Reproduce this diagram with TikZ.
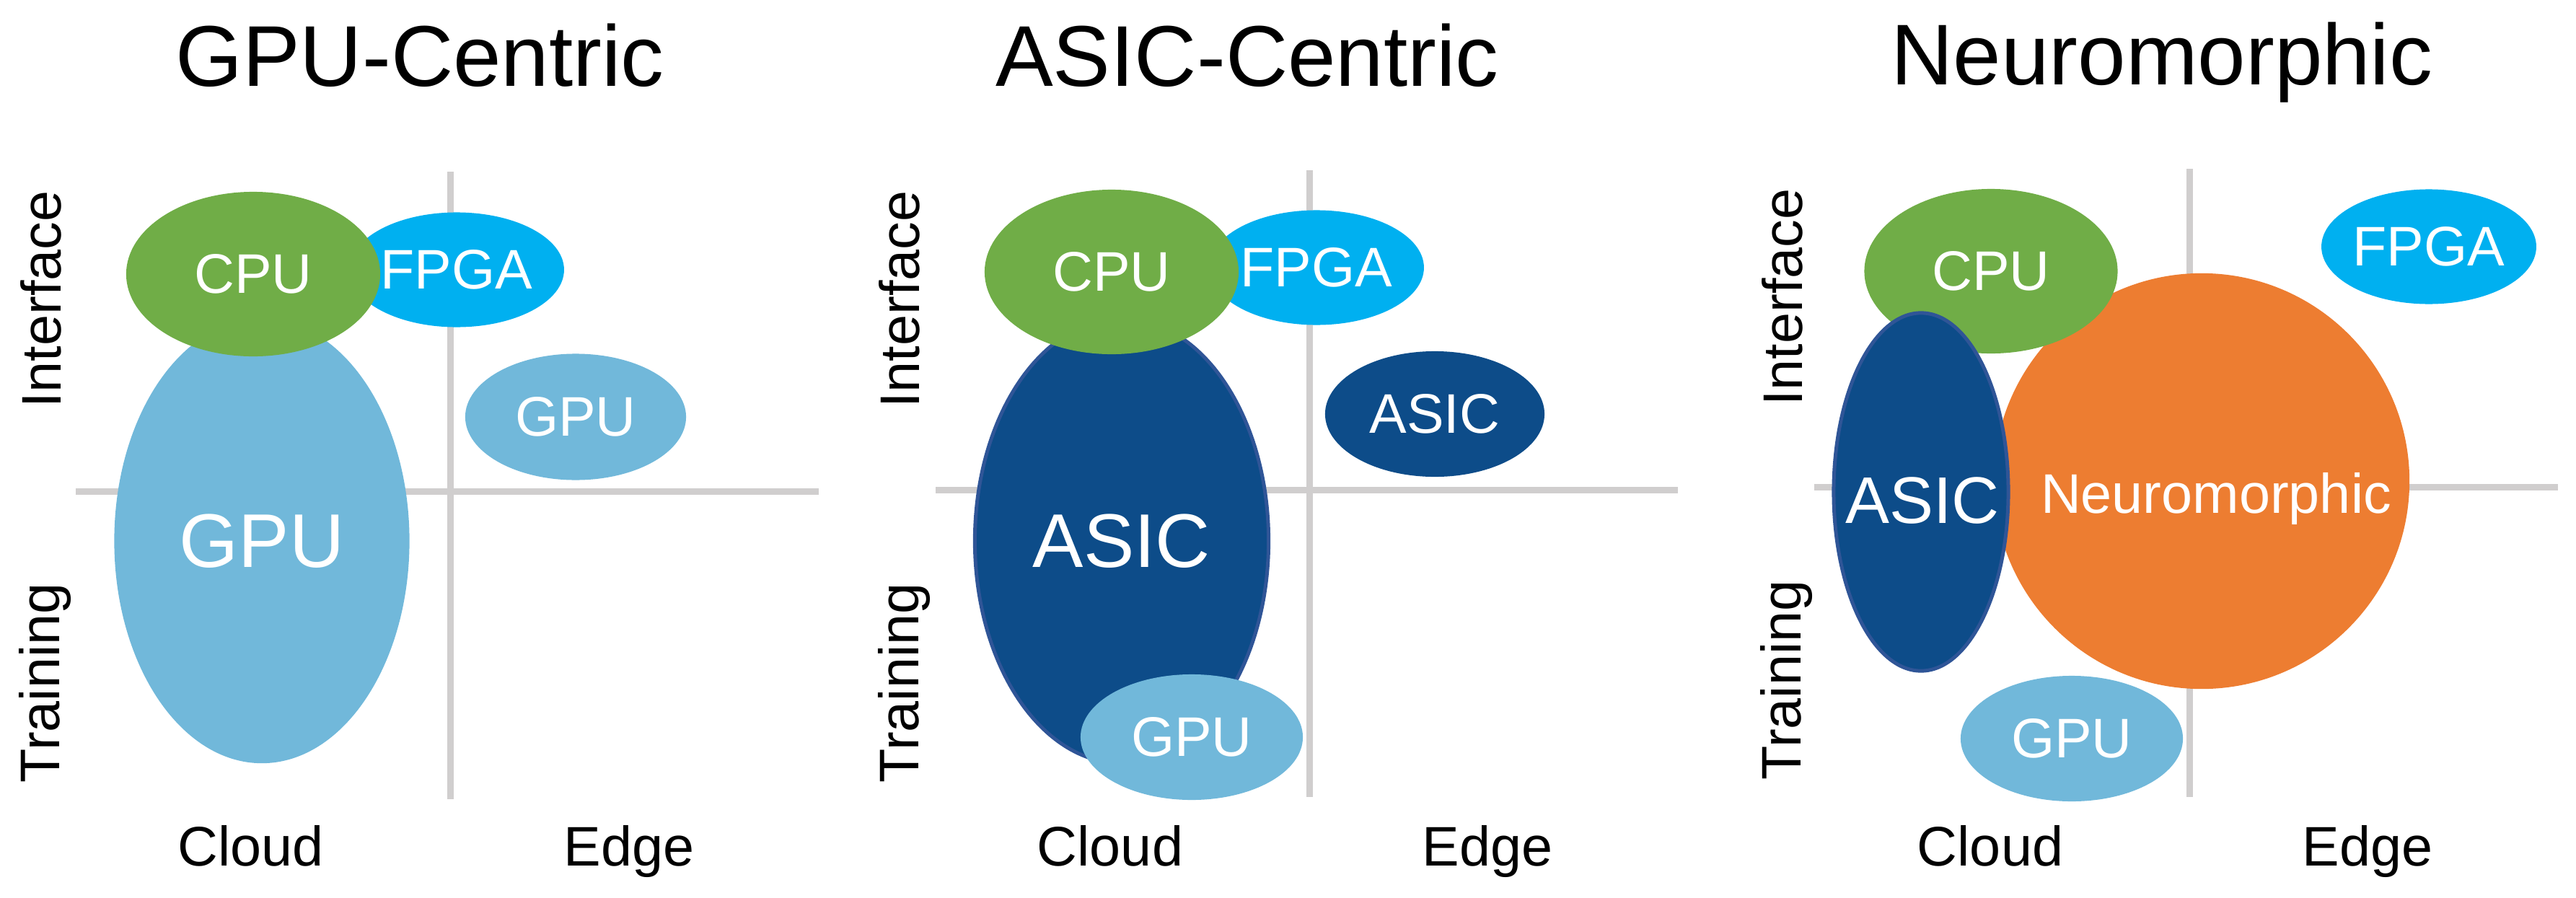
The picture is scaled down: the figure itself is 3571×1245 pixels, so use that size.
\documentclass[tikz,border=0pt]{standalone}
\usepackage{fontspec}
\setmainfont{Liberation Sans}
\usetikzlibrary{shapes.geometric}
\definecolor{cpugreen}{HTML}{70AD47}
\definecolor{fpgablue}{HTML}{00B0F0}
\definecolor{gpublue}{HTML}{71B8DA}
\definecolor{asicblue}{HTML}{0D4C89}
\definecolor{asicrim}{HTML}{2F5597}
\definecolor{neuroorange}{HTML}{ED7D31}
\definecolor{axisgray}{HTML}{D0CECE}
\begin{document}
\begin{tikzpicture}[x=0.01cm,y=-0.01cm,
    chip/.style={ellipse,inner sep=0pt,text=white,font=\fontsize{22}{26}\selectfont},
    chip text/.style={text=white,inner sep=0pt,font=\fontsize{22}{26}\selectfont},
    big/.style={font=\fontsize{30}{36}\selectfont},
    rim/.style={draw=asicrim,line width=0.5mm},
    heading/.style={anchor=base,font=\fontsize{34}{40}\selectfont},
    side label/.style={anchor=base,font=\fontsize{22}{26}\selectfont},
    quadrant/.style={draw=axisgray,line width=0.9mm}]
    \useasboundingbox (0,0) rectangle (3571,1245);

    % GPU-Centric
    \node[heading] (title1) at (582,119) {GPU-Centric};
    \draw[quadrant] (624,238) -- (624,1108);
    \draw[quadrant] (105,681) -- (1135,681);
    \node[chip,big,fill=gpublue,minimum width=4.09cm,minimum height=6.16cm] (gpu1) at (363,750) {GPU};
    \node[chip,fill=fpgablue,minimum width=2.64cm,minimum height=1.59cm] (fpga1) at (633,374) {FPGA};
    \node[chip,fill=gpublue,minimum width=3.06cm,minimum height=1.75cm] (gpuedge1) at (798,578) {GPU};
    \node[chip,fill=cpugreen,minimum width=3.52cm,minimum height=2.28cm] (cpu1) at (351,380) {CPU};
    \node[side label,rotate=90] (inf1) at (84,415) {Interface};
    \node[side label,rotate=90] (trn1) at (83,947) {Training};
    \node[side label] (cloud1) at (348,1200) {Cloud};
    \node[side label] (edge1) at (872,1200) {Edge};

    % ASIC-Centric
    \node[heading] (title2) at (1729,119) {ASIC-Centric};
    \draw[quadrant] (1815,236) -- (1815,1105);
    \draw[quadrant] (1297,679) -- (2326,679);
    \node[chip,big,rim,fill=asicblue,minimum width=4.07cm,minimum height=6.16cm] (asic2) at (1555,750) {ASIC};
    \node[chip,fill=gpublue,minimum width=3.08cm,minimum height=1.74cm] (gpu2) at (1652,1022) {GPU};
    \node[chip,fill=fpgablue,minimum width=2.6cm,minimum height=1.59cm] (fpga2) at (1825,371) {FPGA};
    \node[chip,fill=asicblue,minimum width=3.04cm,minimum height=1.74cm] (asicedge2) at (1989,574) {ASIC};
    \node[chip,fill=cpugreen,minimum width=3.52cm,minimum height=2.28cm] (cpu2) at (1541,377) {CPU};
    \node[side label,rotate=90] (inf2) at (1274,415) {Interface};
    \node[side label,rotate=90] (trn2) at (1273,947) {Training};
    \node[side label] (cloud2) at (1539,1200) {Cloud};
    \node[side label] (edge2) at (2062,1200) {Edge};

    % Neuromorphic
    \node[heading] (title3) at (2997,117) {Neuromorphic};
    \draw[quadrant] (3035,234) -- (3035,1105);
    \draw[quadrant] (2515,675) -- (3546,675);
    \node[circle,fill=neuroorange,minimum size=5.76cm] (neuro3) at (3052,667) {};
    \node[chip,fill=cpugreen,minimum width=3.51cm,minimum height=2.28cm] (cpu3) at (2760,376) {CPU};
    \node[ellipse,rim,fill=asicblue,minimum width=2.42cm,minimum height=4.96cm] (asic3) at (2663,682) {};
    \node[chip text,font=\fontsize{26}{30}\selectfont] (asictxt3) at (2665,694) {ASIC};
    \node[chip text] (neurotxt3) at (3072,691) {Neuromorphic};
    \node[chip,fill=fpgablue,minimum width=2.72cm,minimum height=1.59cm] (fpga3) at (3367,342) {FPGA};
    \node[chip,fill=gpublue,minimum width=3.08cm,minimum height=1.74cm] (gpu3) at (2872,1024) {GPU};
    \node[side label,rotate=90] (inf3) at (2498,412) {Interface};
    \node[side label,rotate=90] (trn3) at (2496,943) {Training};
    \node[side label] (cloud3) at (2759,1200) {Cloud};
    \node[side label] (edge3) at (3282,1200) {Edge};
\end{tikzpicture}
\end{document}
